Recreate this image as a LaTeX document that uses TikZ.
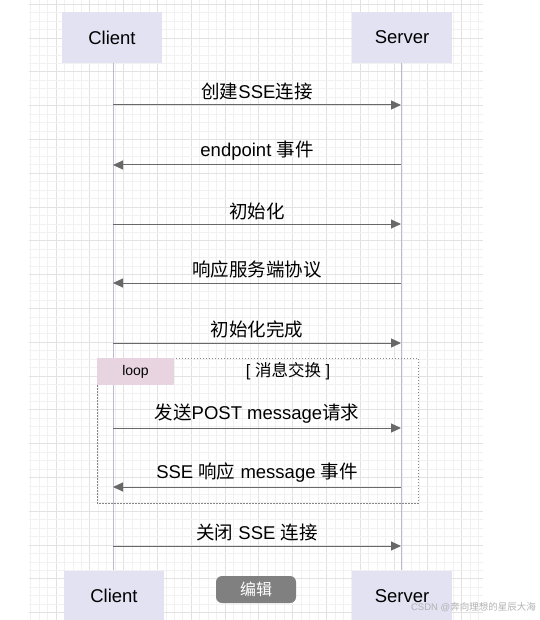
\documentclass[tikz,border=0pt]{standalone}
\usepackage{fontspec}
\setmainfont{Liberation Sans}
\newfontfamily\cjk{Noto Sans CJK SC}
\usetikzlibrary{arrows.meta}

\definecolor{actorfill}{RGB}{226,226,243}
\definecolor{lifecol}{RGB}{192,184,208}
\definecolor{msgcol}{RGB}{104,104,104}
\definecolor{tagfill}{RGB}{232,212,224}
\definecolor{gridminor}{RGB}{241,241,241}
\definecolor{gridmajor}{RGB}{226,226,226}

\tikzset{
  actor/.style={fill=actorfill, minimum width=100pt, minimum height=51pt, inner sep=0pt,
    font=\fontsize{18.5}{20}\selectfont},
  lifel/.style={lifecol, line width=1pt},
  msg/.style={msgcol, line width=1pt, -{Triangle[length=10pt,width=9pt]}},
  msglabel/.style={above=3pt, inner sep=1pt, text=black, font=\fontsize{18.5}{20}\selectfont},
}

\begin{document}
\begin{tikzpicture}[x=1pt,y=-1pt]
\useasboundingbox (0,0) rectangle (539,620);

% grille de fond
\foreach \k in {-3,...,50} {
  \pgfmathsetmacro{\gx}{56+8.45*\k}
  \ifnum\numexpr\k-4*(\k/4)\relax=0 \def\gc{gridmajor}\else\def\gc{gridminor}\fi
  \draw[\gc, line width=0.7pt] (\gx,0) -- (\gx,620);
}
\foreach \k in {-4,...,68} {
  \pgfmathsetmacro{\gy}{38+8.45*\k}
  \ifnum\numexpr\k-4*(\k/4)\relax=0 \def\gc{gridmajor}\else\def\gc{gridminor}\fi
  \draw[\gc, line width=0.7pt] (29,\gy) -- (483,\gy);
}

% acteurs
\node[actor] (clienttop) at (112,37.5) {Client};
\node[actor] (servertop) at (402,37.5) {Server};
\node[actor] (clientbot) at (114,596) {Client};
\node[actor] (serverbot) at (402,596) {Server};

% lignes de vie
\draw[lifel] (clienttop.south -| 113,0) -- (clientbot.north -| 113,0);
\draw[lifel] (servertop.south -| 401,0) -- (serverbot.north -| 401,0);

% points des messages
\foreach \i/\y in {1/105,2/165,3/224,4/283,5/343,6/428,7/487,8/546} {
  \coordinate (c\i) at (113,\y);
  \coordinate (s\i) at (401,\y);
}

% boucle
\draw[msgcol!80, line width=0.9pt, dash pattern=on 1.5pt off 1.5pt] (97,358) rectangle (418,503);
\node[fill=tagfill, minimum width=77pt, minimum height=27pt, inner sep=0pt,
  font=\fontsize{14}{16}\selectfont] (looptag) at (135.5,371.5) {loop};
\node[font=\fontsize{16.5}{18}\selectfont] (looptitle) at (288,371) {[ {\cjk 消息交换} ]};

% messages
\draw[msg] (c1) -- node[msglabel] {{\cjk 创建}SSE{\cjk 连接}} (s1);
\draw[msg] (s2) -- node[msglabel] {endpoint {\cjk 事件}} (c2);
\draw[msg] (c3) -- node[msglabel] {{\cjk 初始化}} (s3);
\draw[msg] (s4) -- node[msglabel] {{\cjk 响应服务端协议}} (c4);
\draw[msg] (c5) -- node[msglabel] {{\cjk 初始化完成}} (s5);
\draw[msg] (c6) -- node[msglabel] {{\cjk 发送}POST message{\cjk 请求}} (s6);
\draw[msg] (s7) -- node[msglabel] {SSE {\cjk 响应} message {\cjk 事件}} (c7);
\draw[msg] (c8) -- node[msglabel] {{\cjk 关闭} SSE {\cjk 连接}} (s8);

% bouton et filigrane
\node[fill=black!50, rounded corners=6pt, minimum width=80pt, minimum height=27pt, inner sep=0pt,
  text=white, font=\cjk\fontsize{16}{18}\selectfont] (editbtn) at (256,589.5) {编辑};
\node[anchor=east, text=black!30, inner sep=0pt, font=\fontsize{9.5}{11}\selectfont]
  (mark) at (536,607) {CSDN @{\cjk 奔向理想的星辰大海}};
\end{tikzpicture}
\end{document}
